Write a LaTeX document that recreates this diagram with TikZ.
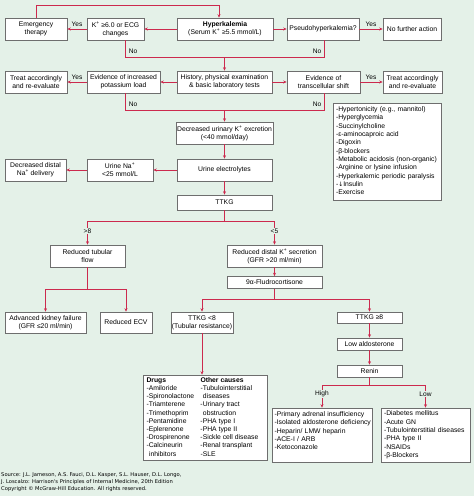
\documentclass[tikz,border=0pt]{standalone}
\usepackage{fontspec}
\setmainfont{Liberation Sans}
\newfontfamily\dejavu{DejaVu Sans}
\usetikzlibrary{arrows.meta,shadows,calc}
\definecolor{bg}{HTML}{E4F1E8}
\definecolor{ln}{HTML}{CC2A4E}
\definecolor{bd}{HTML}{6E6E6E}
\newcommand{\kp}{\textsuperscript{+}}
\newcommand{\lst}[1]{\begin{tabular}{@{}l@{}}#1\end{tabular}}
\begin{document}
\begin{tikzpicture}[x=1pt,y=-1pt,
  box/.style={draw=bd, fill=white, line width=0.6pt, align=center, inner sep=0pt,
    font=\fontsize{6.8}{8}\selectfont,
    drop shadow={shadow xshift=0.7pt, shadow yshift=-0.7pt, fill=black, opacity=0.3}},
  listbox/.style={box, align=left, inner xsep=3pt, font=\fontsize{6.8}{8.3}\selectfont},
  conn/.style={draw=ln, line width=0.8pt, -{Stealth[length=3.5pt,width=3pt]}},
  wire/.style={draw=ln, line width=0.8pt},
  lbl/.style={font=\fontsize{6.6}{7}\selectfont, inner sep=0.5pt},
  lblf/.style={lbl, fill=bg},
  src/.style={font=\dejavu\fontsize{5.2}{6}\selectfont, inner sep=0pt, anchor=west, align=left}
]
\fill[bg] (0,0) rectangle (474,496);
\useasboundingbox (0,0) rectangle (474,496);

% row 1
\node[box, minimum width=62pt, minimum height=22pt] (emerg) at (36,29) {Emergency\\therapy};
\node[box, minimum width=57pt, minimum height=22pt] (kplus) at (115.5,29) {K\kp{} ≥6.0 or ECG\\changes};
\node[box, minimum width=96pt, minimum height=22pt] (hyper) at (225,29) {\textbf{Hyperkalemia}\\(Serum K\kp{} ≥5.5 mmol/L)};
\node[box, minimum width=72pt, minimum height=22pt] (pseudo) at (323,29) {Pseudohyperkalemia?};
\node[box, minimum width=58pt, minimum height=22pt] (nofurther) at (412,29) {No further action};

% row 2
\node[box, minimum width=62pt, minimum height=22pt] (treatL) at (36,82) {Treat accordingly\\and re-evaluate};
\node[box, minimum width=73pt, minimum height=22pt] (incload) at (123.5,82) {Evidence of increased\\potassium load};
\node[box, minimum width=95pt, minimum height=22pt] (hist) at (224.5,82) {History, physical examination\\\& basic laboratory tests};
\node[box, minimum width=73pt, minimum height=22pt] (transc) at (323.5,82) {Evidence of\\transcellular shift};
\node[box, minimum width=59pt, minimum height=22pt] (treatR) at (412.5,82) {Treat accordingly\\and re-evaluate};

% list of transcellular causes
\node[listbox, minimum width=108pt, minimum height=97pt, text width=102pt] (hlist) at (387,151.5) {\lst{-Hypertonicity (e.g., mannitol)\\-Hyperglycemia\\-Succinylcholine\\-ε-aminocaproic acid\\-Digoxin\\-β-blockers\\-Metabolic acidosis (non-organic)\\-Arginine or lysine infusion\\-Hyperkalemic periodic paralysis\\-{\dejavu\fontsize{6}{8}\selectfont↓}Insulin\\-Exercise}};

% central column
\node[box, minimum width=97pt, minimum height=22pt] (decur) at (224.5,133) {Decreased urinary K\kp{} excretion\\(<40 mmol/day)};
\node[box, minimum width=95pt, minimum height=22pt] (urineel) at (224.5,170) {Urine electrolytes};
\node[box, minimum width=66pt, minimum height=22pt] (urinena) at (120,170) {Urine Na\kp\\<25 mmol/L};
\node[box, minimum width=61pt, minimum height=22pt] (decdist) at (35.5,170) {Decreased distal\\Na\kp{} delivery};
\node[box, minimum width=95pt, minimum height=15pt] (ttkg) at (224.5,202.5) {TTKG};

\node[box, minimum width=75pt, minimum height=22pt] (redtub) at (87.5,256) {Reduced tubular\\flow};
\node[box, minimum width=95pt, minimum height=22pt] (reddist) at (274.5,256) {Reduced distal K\kp{} secretion\\(GFR >20 ml/min)};
\node[box, minimum width=95pt, minimum height=12pt] (fludro) at (274.5,282.5) {9α-Fludrocortisone};

\node[box, minimum width=81pt, minimum height=21pt] (advkid) at (45.5,322.5) {Advanced kidney failure\\(GFR ≤20 ml/min)};
\node[box, minimum width=52pt, minimum height=21pt] (redecv) at (126,322.5) {Reduced ECV};
\node[box, minimum width=62pt, minimum height=21pt] (ttkglt) at (202,322.5) {TTKG <8\\(Tubular resistance)};
\node[box, minimum width=65pt, minimum height=11pt] (ttkgge) at (369.5,317.5) {TTKG ≥8};
\node[box, minimum width=65pt, minimum height=12pt] (lowaldo) at (369.5,344) {Low aldosterone};
\node[box, minimum width=65pt, minimum height=12pt] (renin) at (369.5,371) {Renin};

\node[box, minimum width=124pt, minimum height=85pt, inner xsep=3pt, font=\fontsize{6.8}{8.2}\selectfont] (drugs) at (205,417.5) {%
\begin{tabular}{@{}p{54pt}@{}p{63pt}@{}}
\textbf{Drugs} & \textbf{Other causes}\\
-Amiloride & -Tubulointerstitial\\
-Spironolactone & \hspace*{2.5pt}diseases\\
-Triamterene & -Urinary tract\\
-Trimethoprim & \hspace*{2.5pt}obstruction\\
-Pentamidine & -PHA type I\\
-Eplerenone & -PHA type II\\
-Drospirenone & -Sickle cell disease\\
-Calcineurin & -Renal transplant\\
\hspace*{2.5pt}inhibitors & -SLE
\end{tabular}};

\node[listbox, minimum width=100pt, minimum height=54pt, text width=95pt, inner xsep=2.5pt] (high) at (322,435) {\lst{-Primary adrenal insufficiency\\-Isolated aldosterone deficiency\\-Heparin/ LMW heparin\\-ACE-I / ARB\\-Ketoconazole\\ \\[-1pt]}};
\node[listbox, minimum width=89pt, minimum height=54pt, text width=83pt] (low) at (425.5,435) {\lst{-Diabetes mellitus\\-Acute GN\\-Tubulointerstitial diseases\\-PHA type II\\-NSAIDs\\-β-Blockers}};

% connectors row 1
\coordinate (top1) at (36,5);
\draw[wire] (emerg.north) -- (top1);
\draw[conn] (top1) -| ([xshift=-6pt]hyper.north);
\draw[conn] (hyper.west) -- (kplus.east);
\draw[conn] (kplus.west) -- (emerg.east);
\draw[conn] (hyper.east) -- (pseudo.west);
\draw[conn] (pseudo.east) -- (nofurther.west);
\node[lbl] (yes1) at (77,24) {Yes};
\node[lbl] (yes2) at (371,24) {Yes};

\coordinate (j1) at (224.5,57);
\draw[wire] ([xshift=9.5pt]kplus.south) |- (j1);
\draw[wire] ([xshift=1pt]pseudo.south) |- (j1);
\draw[conn] (j1) -- (hist.north);
\node[lbl] (no1) at (133,51) {No};
\node[lbl] (no2) at (317,51) {No};

% connectors row 2
\draw[conn] (hist.west) -- (incload.east);
\draw[conn] (incload.west) -- (treatL.east);
\draw[conn] (hist.east) -- (transc.west);
\draw[conn] (transc.east) -- (treatR.west);
\node[lbl] (yes3) at (77,77) {Yes};
\node[lbl] (yes4) at (371,77) {Yes};

\coordinate (j2) at (224.5,110);
\draw[wire] ([xshift=1.5pt]incload.south) |- (j2);
\draw[wire] ([xshift=0.5pt]transc.south) |- (j2);
\draw[conn] (j2) -- (decur.north);
\node[lbl] (no3) at (133,104) {No};
\node[lbl] (no4) at (317,104) {No};

% central column
\draw[conn] (decur.south) -- (urineel.north);
\draw[conn] (urineel.west) -- (urinena.east);
\draw[conn] (urinena.west) -- (decdist.east);
\draw[conn] (urineel.south) -- (ttkg.north);

\coordinate (j3) at (224.5,221);
\coordinate (j3l) at (87.5,221);
\coordinate (j3r) at (274.5,221);
\draw[wire] (ttkg.south) -- (j3);
\draw[wire] (j3l) -- (j3r);
\draw[conn] (j3l) -- (redtub.north);
\draw[conn] (j3r) -- (reddist.north);
\node[lblf] (gt8) at (87.5,231) {>8};
\node[lblf] (lt5) at (274.5,231) {<5};

\draw[conn] (reddist.south) -- (fludro.north);

\coordinate (j4) at (87.5,289);
\draw[wire] (redtub.south) -- (j4);
\draw[wire] (advkid.north |- j4) -- (redecv.north |- j4);
\draw[conn] (advkid.north |- j4) -- (advkid.north);
\draw[conn] (redecv.north |- j4) -- (redecv.north);

\coordinate (j5) at (274.5,299);
\draw[wire] (fludro.south) -- (j5);
\draw[wire] (ttkglt.north |- j5) -- (ttkgge.north |- j5);
\draw[conn] (ttkglt.north |- j5) -- (ttkglt.north);
\draw[conn] (ttkgge.north |- j5) -- (ttkgge.north);

\draw[conn] (ttkglt.south) -- (drugs.north -| ttkglt.south);
\draw[conn] (ttkgge.south) -- (lowaldo.north);
\draw[conn] (lowaldo.south) -- (renin.north);

\coordinate (j6) at (369.5,385);
\draw[wire] (renin.south) -- (j6);
\draw[wire] (high.north |- j6) -- (low.north |- j6);
\draw[conn] (high.north |- j6) -- (high.north);
\draw[conn] (low.north |- j6) -- (low.north);
\node[lblf] (hi) at (322,394) {High};
\node[lblf] (lo) at (425.5,394) {Low};

% source
\node[src] (s1) at (1,475) {Source: J.L. Jameson, A.S. Fauci, D.L. Kasper, S.L. Hauser, D.L. Longo,};
\node[src] (s2) at (1,482) {J. Loscalzo: Harrison's Principles of Internal Medicine, 20th Edition};
\node[src] (s3) at (1,489) {Copyright © McGraw-Hill Education. All rights reserved.};
\end{tikzpicture}
\end{document}
